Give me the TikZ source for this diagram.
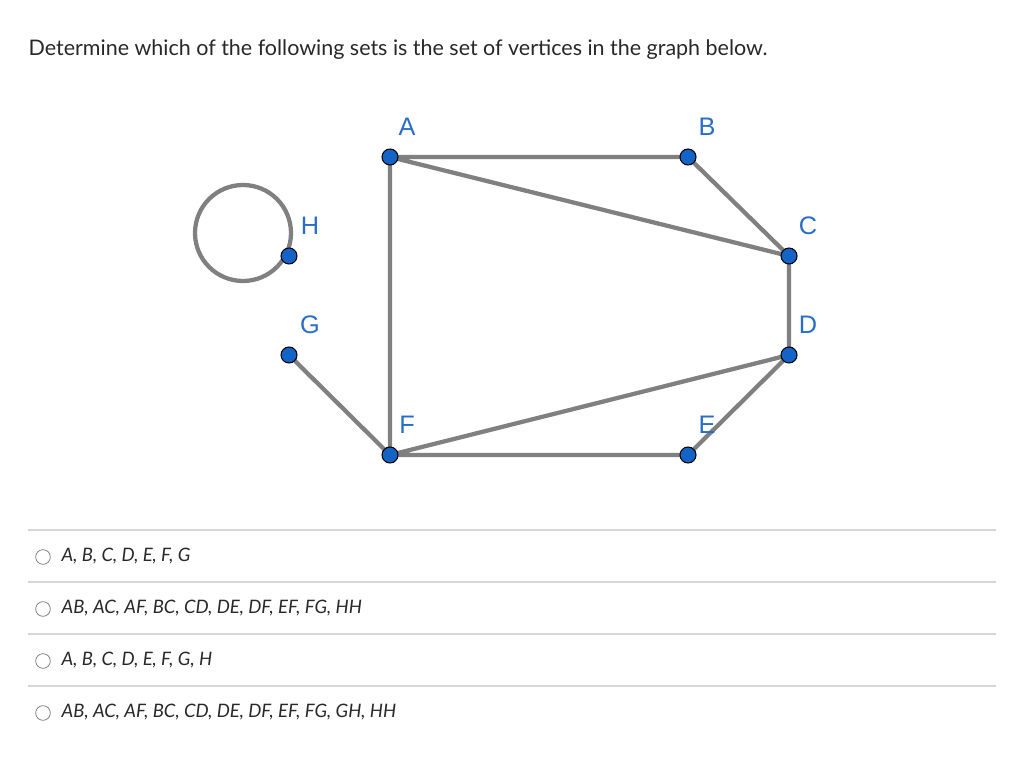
\documentclass[tikz,border=0pt]{standalone}
\usepackage{fontspec}
\setmainfont{Lato}
\newfontfamily\lblfont{Liberation Sans}
\definecolor{edgegray}{RGB}{128,128,128}
\definecolor{vblue}{RGB}{20,100,200}
\definecolor{lblue}{RGB}{40,110,200}
\definecolor{rule}{RGB}{215,215,215}
\definecolor{txt}{RGB}{40,40,40}
\begin{document}
\begin{tikzpicture}[x=0.75pt,y=-0.75pt,
  vtx/.style={circle,fill=vblue,draw=black,line width=0.8pt,minimum size=12pt,inner sep=0pt},
  edge/.style={draw=edgegray,line width=3.2pt},
  lbl/.style={text=lblue,font=\lblfont\fontsize{19}{19}\selectfont},
  opt/.style={anchor=west,text=txt,font=\itshape\fontsize{13.9}{13.9}\selectfont},
  radio/.style={circle,draw=gray,line width=0.6pt,minimum size=11pt,inner sep=0pt},
  sep/.style={draw=rule,line width=0.8pt}]
\useasboundingbox (0,0) rectangle (1024,762);
\node[anchor=west,text=txt,font=\fontsize{16.1}{16.1}\selectfont] (q) at (24,50) {Determine which of the following sets is the set of vertices in the graph below.};
\coordinate (A) at (390,157);
\coordinate (B) at (688,157);
\coordinate (C) at (789,256);
\coordinate (D) at (789,355);
\coordinate (E) at (688,455);
\coordinate (F) at (390,455);
\coordinate (G) at (289,355);
\coordinate (H) at (289,256);
\draw[edge] (243,233) circle[radius=48];
\draw[edge] (A)--(B) (A)--(F) (A)--(C) (B)--(C) (C)--(D) (D)--(F) (D)--(E) (E)--(F) (F)--(G);
\foreach \v in {A,B,C,D,E,F,G,H} \node[vtx] (n\v) at (\v) {};
\node[lbl] (lA) at (407,127) {A};
\node[lbl] (lB) at (707,127) {B};
\node[lbl] (lC) at (808,226) {C};
\node[lbl] (lD) at (808,325) {D};
\node[lbl] (lE) at (707,425) {E};
\node[lbl] (lF) at (407,425) {F};
\node[lbl] (lG) at (310,325) {G};
\node[lbl] (lH) at (310,226) {H};
\foreach \y in {530,582,634,686} \draw[sep] (28,\y)--(996,\y);
\node[radio] (r1) at (43,557) {};
\node[radio] (r2) at (43,609) {};
\node[radio] (r3) at (43,661) {};
\node[radio] (r4) at (43,713) {};
\node[opt] (o1) at (57,556) {A, B, C, D, E, F, G};
\node[opt] (o2) at (57,608) {AB, AC, AF, BC, CD, DE, DF, EF, FG, HH};
\node[opt] (o3) at (57,660) {A, B, C, D, E, F, G, H};
\node[opt] (o4) at (57,712) {AB, AC, AF, BC, CD, DE, DF, EF, FG, GH, HH};
\end{tikzpicture}
\end{document}
